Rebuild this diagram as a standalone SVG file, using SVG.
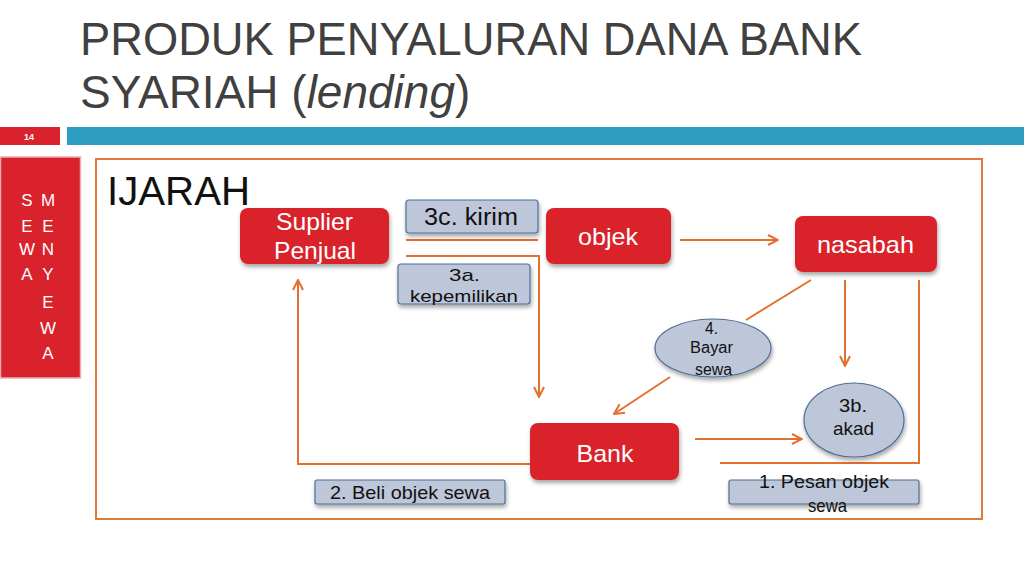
<svg xmlns="http://www.w3.org/2000/svg" width="1024" height="576" viewBox="0 0 1024 576">
<defs>
<style>
.red{fill:#D9222C;}
.lbl{fill:#BDC7D9;stroke:#4F6E96;stroke-width:1.2;}
.wt{fill:#fff;font-family:"Liberation Sans",Arial,sans-serif;font-size:24px;text-anchor:middle;}
.bt{fill:#111;font-family:"Liberation Sans",Arial,sans-serif;text-anchor:middle;}
.con{fill:none;stroke:#E2702E;stroke-width:2;}
.side{fill:#fff;font-family:"Liberation Sans",Arial,sans-serif;font-size:17px;text-anchor:middle;}
</style>
<filter id="sh" x="-20%" y="-20%" width="140%" height="150%">
<feDropShadow dx="1" dy="3" stdDeviation="2" flood-color="#000" flood-opacity="0.35"/>
</filter>
<marker id="ah" viewBox="0 0 12 12" refX="11" refY="6" markerWidth="12" markerHeight="12" markerUnits="userSpaceOnUse" orient="auto">
<path d="M1,1 L11,6 L1,11" fill="none" stroke="#E2702E" stroke-width="2"/>
</marker>
</defs>
<rect width="1024" height="576" fill="#fff"/>
<g id="title" fill="#404040" font-family="Liberation Sans,Arial,sans-serif" font-size="46">
<text x="80" y="55" textLength="782" lengthAdjust="spacingAndGlyphs">PRODUK PENYALURAN DANA BANK</text>
<text x="80" y="108">SYARIAH (<tspan font-style="italic">lending</tspan>)</text>
</g>
<g id="header-bar">
<rect x="0" y="127" width="60" height="18" fill="#D9222C"/>
<text x="29" y="140" fill="#fff" font-family="Liberation Sans,Arial,sans-serif" font-size="9" font-weight="bold" text-anchor="middle">14</text>
<rect x="67" y="127" width="957" height="18" fill="#2E9EC0"/>
</g>
<g id="side-box">
<rect x="0.5" y="157" width="80" height="221" fill="#D9222C" stroke="#E8B0B0" stroke-width="1.5"/>
<text class="side" x="27" y="206">S</text>
<text class="side" x="27" y="232">E</text>
<text class="side" x="27" y="255">W</text>
<text class="side" x="27" y="280">A</text>
<text class="side" x="48" y="206">M</text>
<text class="side" x="48" y="232">E</text>
<text class="side" x="48" y="255">N</text>
<text class="side" x="48" y="280">Y</text>
<text class="side" x="48" y="308">E</text>
<text class="side" x="48" y="334">W</text>
<text class="side" x="48" y="359">A</text>
</g>
<rect id="frame" x="96" y="159" width="886" height="360" fill="none" stroke="#E07A3C" stroke-width="2"/>
<text id="ijarah" x="107" y="205" font-family="Liberation Sans,Arial,sans-serif" font-size="40" fill="#111" textLength="143" lengthAdjust="spacingAndGlyphs">IJARAH</text>
<g id="connectors">
<line class="con" x1="406" y1="240" x2="538" y2="240"/>
<polyline class="con" points="406,256 539,256 539,397" marker-end="url(#ah)"/>
<line class="con" x1="680" y1="240" x2="778" y2="240" marker-end="url(#ah)"/>
<line class="con" x1="811" y1="280" x2="746" y2="320"/>
<line class="con" x1="670" y1="377" x2="614" y2="414" marker-end="url(#ah)"/>
<line class="con" x1="845" y1="280" x2="845" y2="366" marker-end="url(#ah)"/>
<polyline class="con" points="919,280 919,463 720,463"/>
<line class="con" x1="695" y1="439" x2="802" y2="439" marker-end="url(#ah)"/>
<polyline class="con" points="530,464 298,464 298,280" marker-end="url(#ah)"/>
</g>
<g id="suplier">
<rect class="red" x="240" y="208" width="149" height="56" rx="8" filter="url(#sh)"/>
<text class="wt" x="314.5" y="230" textLength="77" lengthAdjust="spacingAndGlyphs">Suplier</text>
<text class="wt" x="315" y="259" textLength="82" lengthAdjust="spacingAndGlyphs">Penjual</text>
</g>
<g id="kirim">
<rect class="lbl" x="406" y="200" width="132" height="33" rx="3" filter="url(#sh)"/>
<text class="bt" x="471" y="225" font-size="23" textLength="94" lengthAdjust="spacingAndGlyphs">3c. kirim</text>
</g>
<g id="kepemilikan">
<rect class="lbl" x="398" y="264" width="132" height="40" rx="3" filter="url(#sh)"/>
<text class="bt" x="464.5" y="281" font-size="17" textLength="31" lengthAdjust="spacingAndGlyphs">3a.</text>
<text class="bt" x="464" y="302" font-size="17" textLength="108" lengthAdjust="spacingAndGlyphs">kepemilikan</text>
</g>
<g id="objek">
<rect class="red" x="546" y="208" width="125" height="56" rx="8" filter="url(#sh)"/>
<text class="wt" x="608" y="245" textLength="60" lengthAdjust="spacingAndGlyphs">objek</text>
</g>
<g id="nasabah">
<rect class="red" x="795" y="216" width="142" height="56" rx="8" filter="url(#sh)"/>
<text class="wt" x="865.5" y="253" textLength="97" lengthAdjust="spacingAndGlyphs">nasabah</text>
</g>
<g id="bayar">
<ellipse class="lbl" cx="713" cy="348" rx="58" ry="29" filter="url(#sh)"/>
<text class="bt" x="711.5" y="334" font-size="16" textLength="13" lengthAdjust="spacingAndGlyphs">4.</text>
<text class="bt" x="711.5" y="353" font-size="16" textLength="43" lengthAdjust="spacingAndGlyphs">Bayar</text>
<text class="bt" x="713.5" y="375" font-size="16" textLength="37" lengthAdjust="spacingAndGlyphs">sewa</text>
</g>
<g id="akad">
<ellipse class="lbl" cx="854" cy="420" rx="50" ry="37" filter="url(#sh)"/>
<text class="bt" x="853" y="412" font-size="19" textLength="28" lengthAdjust="spacingAndGlyphs">3b.</text>
<text class="bt" x="853.5" y="435" font-size="19" textLength="41" lengthAdjust="spacingAndGlyphs">akad</text>
</g>
<g id="bank">
<rect class="red" x="530" y="423" width="149" height="57" rx="8" filter="url(#sh)"/>
<text class="wt" x="605" y="462" textLength="57" lengthAdjust="spacingAndGlyphs">Bank</text>
</g>
<g id="beli">
<rect class="lbl" x="315" y="480" width="190" height="24" rx="2" filter="url(#sh)"/>
<text class="bt" x="410" y="499" font-size="19" textLength="160" lengthAdjust="spacingAndGlyphs">2. Beli objek sewa</text>
</g>
<g id="pesan">
<rect class="lbl" x="729" y="480" width="190" height="24" rx="2" filter="url(#sh)"/>
<text class="bt" x="824" y="488" font-size="19" textLength="130" lengthAdjust="spacingAndGlyphs">1. Pesan objek</text>
<text class="bt" x="827.5" y="512" font-size="19" textLength="39" lengthAdjust="spacingAndGlyphs">sewa</text>
</g>
</svg>
